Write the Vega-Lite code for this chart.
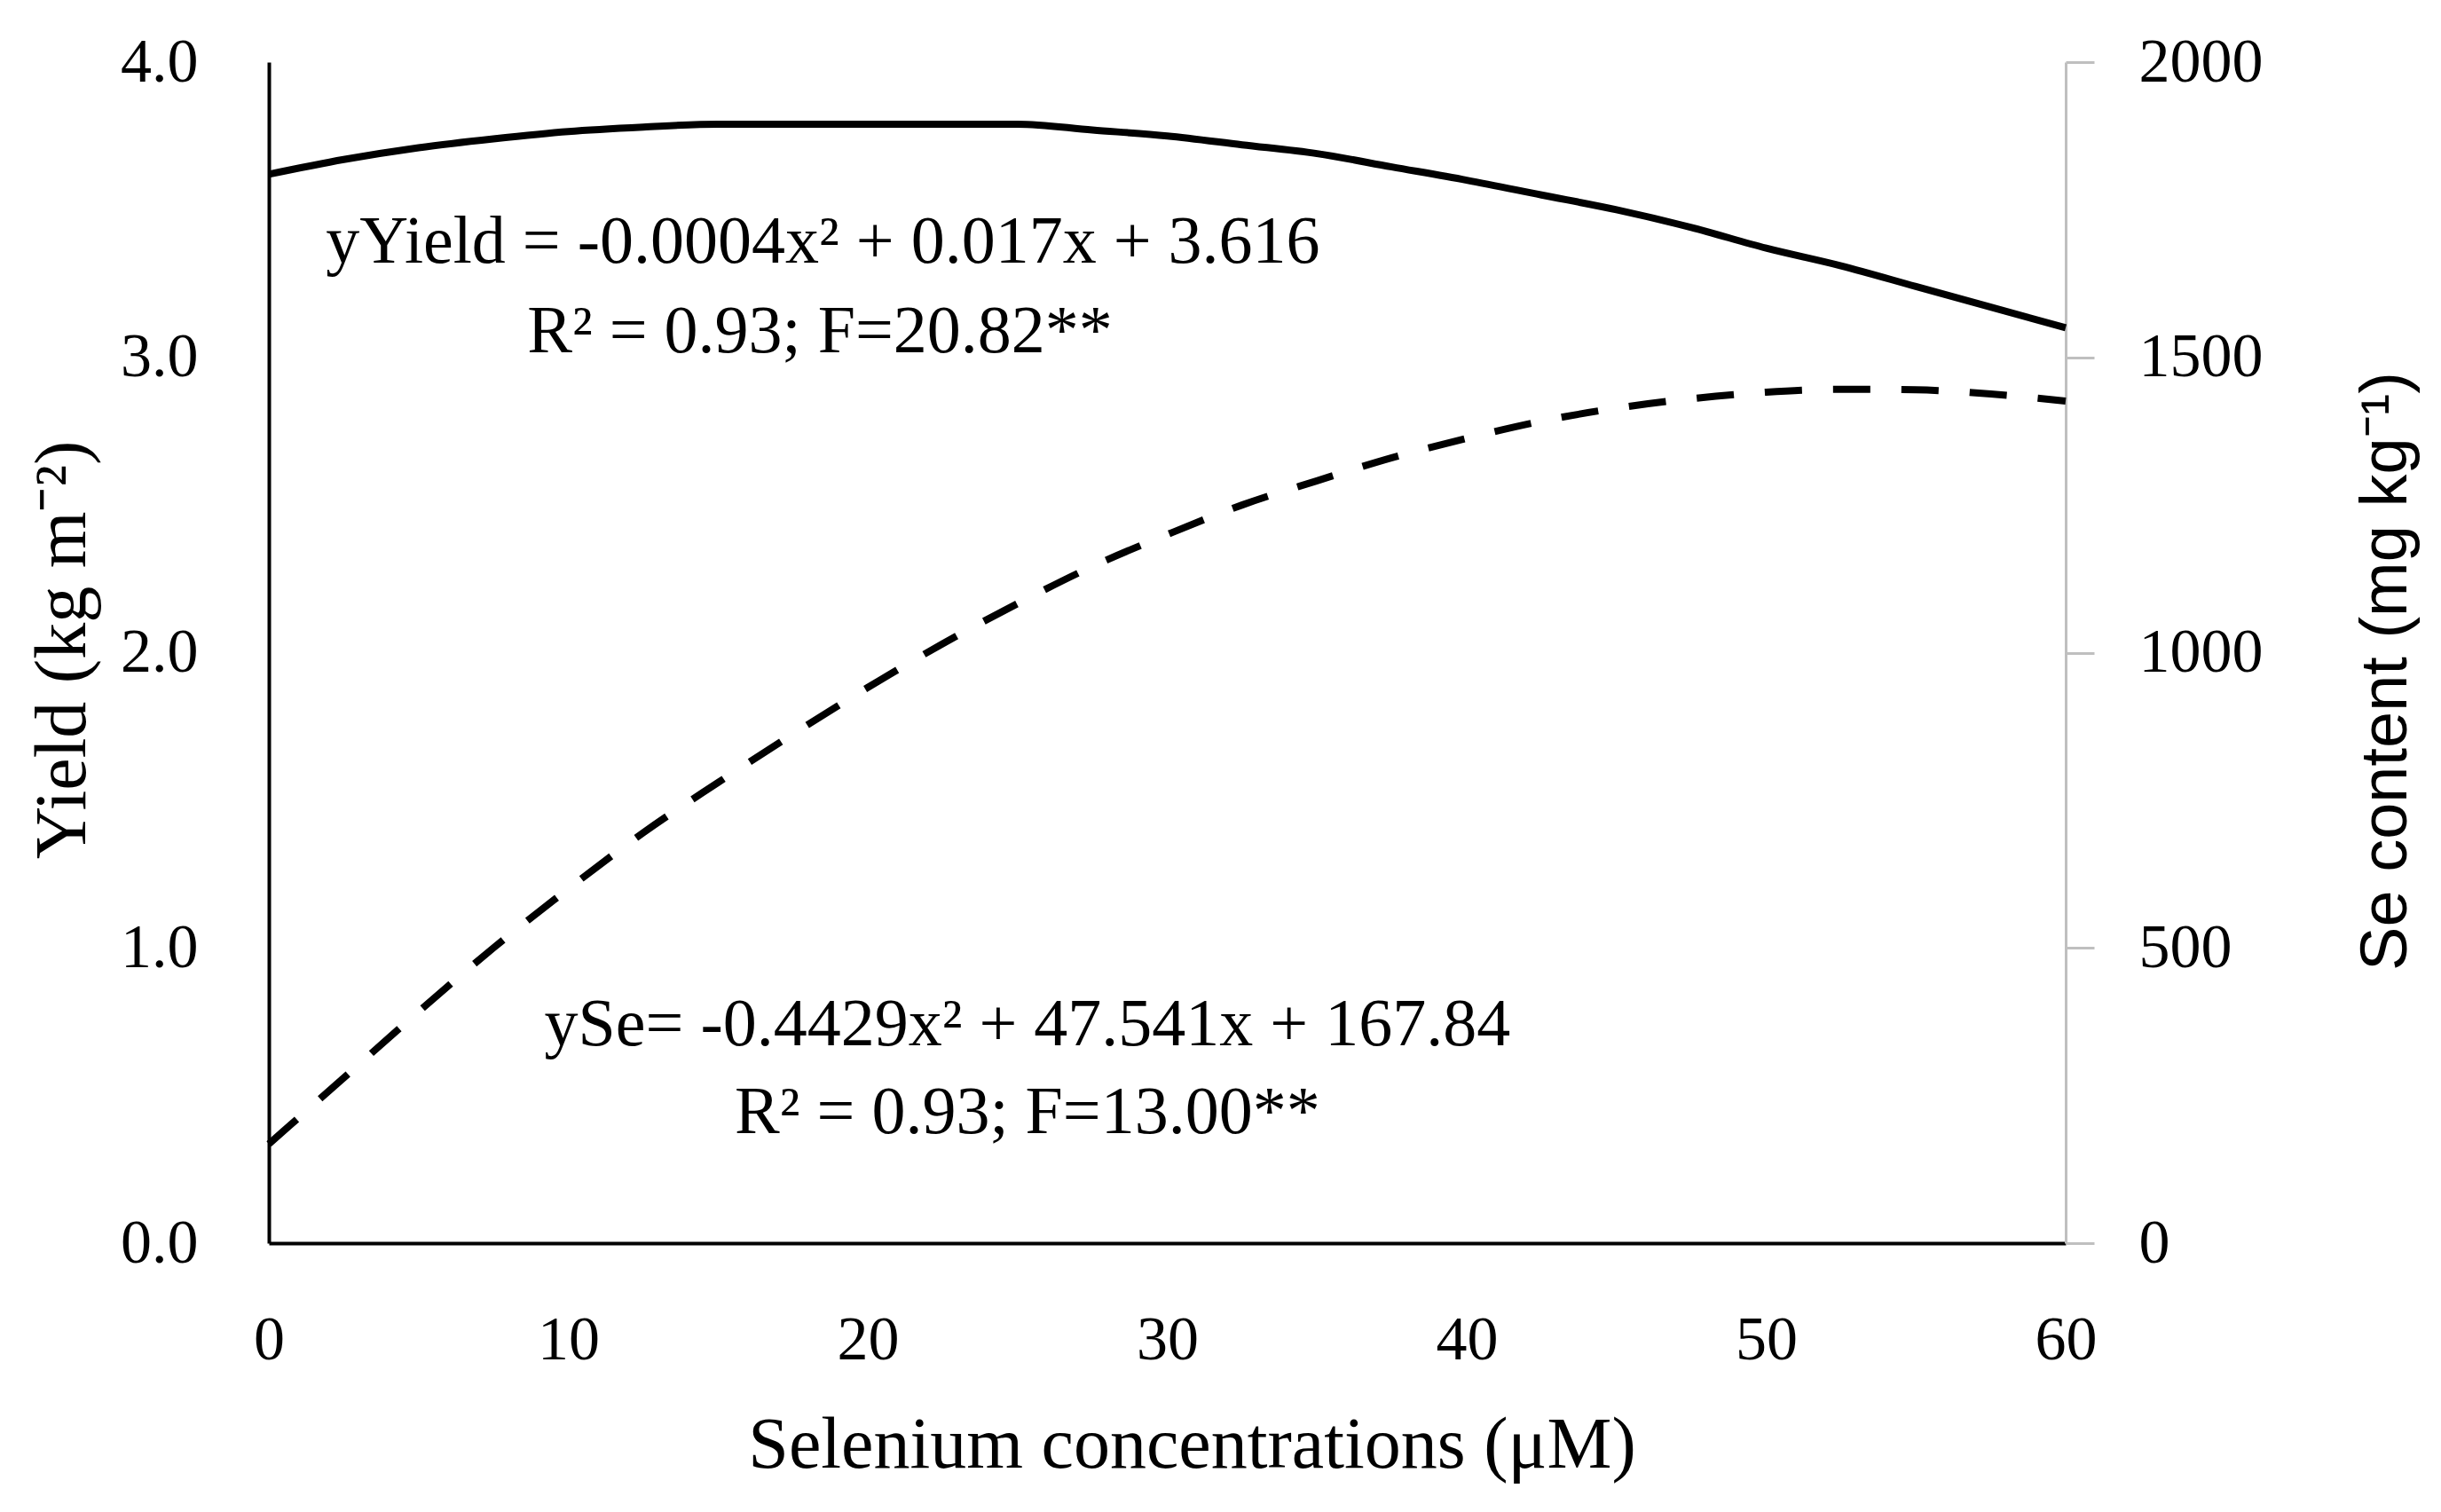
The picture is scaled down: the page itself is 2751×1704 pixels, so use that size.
{
  "$schema": "https://vega.github.io/schema/vega-lite/v6.json",
  "width": 2025,
  "height": 1331,
  "autosize": {"type": "none"},
  "padding": {"left": 303, "top": 70, "right": 423, "bottom": 303},
  "background": "white",
  "config": {
    "view": {"stroke": null},
    "font": "Liberation Serif",
    "axis": {
      "grid": false,
      "labelFont": "Liberation Serif",
      "labelFontSize": 70,
      "labelColor": "black",
      "labelFlush": false,
      "labelOverlap": false,
      "titleFont": "Liberation Serif",
      "titleFontSize": 82,
      "titleFontWeight": "normal",
      "titleColor": "black"
    }
  },
  "datasets": {
    "curves": [
      {"conc": 0, "yield": 3.62, "se": 168},
      {"conc": 2.5, "yield": 3.67, "se": 280},
      {"conc": 5, "yield": 3.71, "se": 392},
      {"conc": 7.5, "yield": 3.74, "se": 500},
      {"conc": 10, "yield": 3.765, "se": 600},
      {"conc": 12.5, "yield": 3.78, "se": 695},
      {"conc": 15, "yield": 3.79, "se": 780},
      {"conc": 17.5, "yield": 3.79, "se": 862},
      {"conc": 20, "yield": 3.79, "se": 941},
      {"conc": 22.5, "yield": 3.79, "se": 1015},
      {"conc": 25, "yield": 3.79, "se": 1083},
      {"conc": 27.5, "yield": 3.77, "se": 1146},
      {"conc": 30, "yield": 3.75, "se": 1200},
      {"conc": 32.5, "yield": 3.72, "se": 1250},
      {"conc": 35, "yield": 3.69, "se": 1291},
      {"conc": 37.5, "yield": 3.645, "se": 1330},
      {"conc": 40, "yield": 3.6, "se": 1363},
      {"conc": 42.5, "yield": 3.55, "se": 1392},
      {"conc": 45, "yield": 3.5, "se": 1414},
      {"conc": 47.5, "yield": 3.44, "se": 1430},
      {"conc": 50, "yield": 3.37, "se": 1441},
      {"conc": 52.5, "yield": 3.31, "se": 1446},
      {"conc": 55, "yield": 3.24, "se": 1445},
      {"conc": 57.5, "yield": 3.17, "se": 1438},
      {"conc": 60, "yield": 3.1, "se": 1426}
    ],
    "notes": [
      {"conc": 18.5, "pos": 3.322, "label": "yYield = -0.0004x² + 0.017x + 3.616"},
      {"conc": 18.4, "pos": 3.016, "label": "R² = 0.93; F=20.82**"},
      {"conc": 25.33, "pos": 0.67, "label": "ySe= -0.4429x² + 47.541x + 167.84"},
      {"conc": 25.33, "pos": 0.373, "label": "R² = 0.93; F=13.00**"}
    ]
  },
  "layer": [
    {
      "layer": [
        {
          "data": {"name": "curves"},
          "mark": {"type": "line", "color": "black", "strokeWidth": 8, "interpolate": "monotone"},
          "encoding": {
            "x": {
              "field": "conc",
              "type": "quantitative",
              "scale": {"domain": [0, 60], "nice": false},
              "axis": {
                "title": "Selenium concentrations (μM)",
                "values": [0, 10, 20, 30, 40, 50, 60],
                "format": "d",
                "domainColor": "black",
                "domainWidth": 4,
                "ticks": false,
                "tickSize": 0,
                "labelPadding": 75,
                "titleX": 1040,
                "titleY": 227,
                "titleAlign": "center",
                "titleBaseline": "middle"
              }
            },
            "y": {
              "field": "yield",
              "type": "quantitative",
              "scale": {"domain": [0, 4], "nice": false},
              "axis": {
                "title": "Yield (kg m⁻²)",
                "values": [0, 1, 2, 3, 4],
                "format": ".1f",
                "domainColor": "black",
                "domainWidth": 4,
                "ticks": false,
                "tickSize": 0,
                "labelPadding": 80,
                "titleX": -233,
                "titleY": 662,
                "titleAngle": 270,
                "titleAlign": "center",
                "titleBaseline": "middle"
              }
            }
          }
        },
        {
          "data": {"name": "notes"},
          "mark": {"type": "text", "font": "Liberation Serif", "fontSize": 76, "color": "black", "align": "center", "baseline": "alphabetic"},
          "encoding": {
            "x": {"field": "conc", "type": "quantitative"},
            "y": {"field": "pos", "type": "quantitative"},
            "text": {"field": "label"}
          }
        }
      ]
    },
    {
      "data": {"name": "curves"},
      "mark": {"type": "line", "color": "black", "strokeWidth": 8, "strokeDash": [42, 35], "interpolate": "monotone"},
      "encoding": {
        "x": {"field": "conc", "type": "quantitative"},
        "y": {
          "field": "se",
          "type": "quantitative",
          "scale": {"domain": [0, 2000], "nice": false},
          "axis": {
            "orient": "right",
            "title": "Se content  (mg kg⁻¹)",
            "titleFont": "Liberation Sans",
            "titleFontSize": 74,
            "values": [0, 500, 1000, 1500, 2000],
            "format": "d",
            "domainColor": "#BFBFBF",
            "domainWidth": 3,
            "tickColor": "#BFBFBF",
            "tickWidth": 3,
            "tickSize": 32,
            "labelPadding": 50,
            "titleX": 361,
            "titleY": 686,
            "titleAngle": 270,
            "titleAlign": "center",
            "titleBaseline": "middle"
          }
        }
      }
    }
  ],
  "resolve": {"scale": {"y": "independent"}, "axis": {"y": "independent"}}
}
